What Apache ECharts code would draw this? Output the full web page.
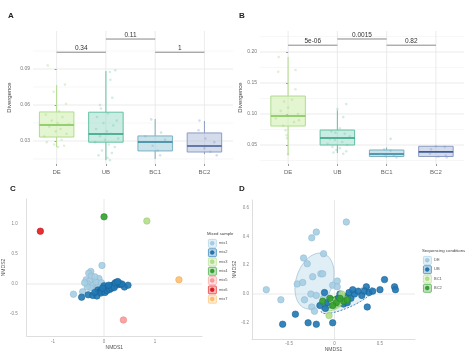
<!DOCTYPE html>
<html><head><meta charset="utf-8">
<script src="https://cdn.jsdelivr.net/npm/echarts@6/dist/echarts.min.js"></script>
<style>html,body{margin:0;padding:0;background:#fff}#main{width:474px;height:354px}</style>
</head><body><div id="main"></div>
<script>
// ---------------- DATA ----------------
const categories = ['DE', 'UB', 'BC1', 'BC2'];
// [min, q1, median, q3, max]
const boxStatsA = [
  [0.025, 0.0333, 0.0433, 0.0542, 0.0767],
  [0.014, 0.029, 0.0358, 0.054, 0.0883],
  [0.015, 0.0217, 0.0292, 0.0342, 0.0483],
  [0.019, 0.0208, 0.0258, 0.0367, 0.0467]
];
const boxStatsB = [
  [0.034, 0.0806, 0.0968, 0.129, 0.192],
  [0.037, 0.050, 0.0613, 0.0742, 0.106],
  [0.030, 0.0315, 0.0355, 0.042, 0.046],
  [0.030, 0.0315, 0.039, 0.048, 0.048]
];
// jittered points: [offset from category, value]
const jitterA_DE = [[-0.18,0.093],[-0.06,0.071],[0.17,0.077],[0.19,0.061],[0.05,0.055],[-0.22,0.052],[0.12,0.050],[-0.10,0.047],[0.02,0.045],[0.25,0.044],[-0.15,0.042],[0.08,0.040],[-0.02,0.038],[0.20,0.036],[-0.25,0.034],[0.10,0.031],[-0.20,0.029],[-0.05,0.027],[0.15,0.026],[0.03,0.025]];
const jitterA_UB = [[0.19,0.089],[0.08,0.0875],[0.09,0.081],[0.13,0.066],[-0.12,0.060],[-0.10,0.057],[0.04,0.053],[-0.18,0.050],[0.22,0.047],[-0.05,0.045],[0.15,0.043],[-0.20,0.040],[0.02,0.038],[0.10,0.036],[-0.12,0.034],[0.25,0.032],[-0.02,0.031],[-0.22,0.029],[0.06,0.027],[0.18,0.025],[-0.08,0.022],[0.12,0.020],[-0.15,0.018],[0.03,0.016],[0.08,0.014]];
const jitterA_BC1 = [[-0.08,0.048],[0.12,0.037],[-0.20,0.034],[0.20,0.031],[-0.05,0.026],[0.05,0.022],[0.10,0.018]];
const jitterA_BC2 = [[-0.10,0.047],[-0.12,0.039],[0.02,0.032],[0.20,0.029],[0.12,0.021],[0.25,0.018],[0.0,0.024]];
const jitterB_DE = [[-0.19,0.192],[-0.20,0.168],[0.15,0.171],[0.15,0.140],[0.08,0.123],[-0.08,0.120],[0.0,0.110],[-0.15,0.105],[0.20,0.100],[-0.25,0.093],[0.22,0.090],[0.12,0.087],[-0.10,0.081],[-0.05,0.074],[-0.03,0.066],[-0.02,0.061],[0.0,0.035]];
const jitterB_UB = [[0.18,0.116],[0.0,0.108],[0.12,0.095],[0.05,0.077],[-0.12,0.072],[-0.04,0.070],[0.15,0.068],[0.25,0.064],[-0.15,0.060],[-0.05,0.058],[0.10,0.055],[-0.20,0.052],[0.20,0.050],[-0.10,0.047],[0.05,0.045],[-0.02,0.042],[0.18,0.040],[-0.08,0.038],[0.12,0.036]];
const jitterB_BC1 = [[0.08,0.060],[-0.05,0.043],[0.08,0.041],[-0.12,0.036],[0.15,0.033],[-0.02,0.032],[0.20,0.030]];
const jitterB_BC2 = [[0.0,0.048],[0.18,0.047],[-0.10,0.043],[-0.12,0.036],[0.20,0.033],[0.05,0.031],[0.22,0.030]];
const bracketPairs = [[0, 1], [1, 2], [2, 3]];
const pValuesA = ['0.34', '0.11', '1'];
const bracketHeightsA = [0.104, 0.115, 0.104];
const pValuesB = ['5e-06', '0.0015', '0.82'];
const bracketHeightsB = [0.211, 0.221, 0.211];
const yTicksA = [0.03, 0.06, 0.09];
const yMinorA = [0.015, 0.045, 0.075, 0.105];
const yTicksB = [0.05, 0.10, 0.15, 0.20];
const yMinorB = [0.025, 0.075, 0.125, 0.175, 0.225];

// Panel C: NMDS by mixed sample
const mixedLabels = ['mix1', 'mix2', 'mix3', 'mix4', 'mix5', 'mix6', 'mix7'];
const nmdsC_1 = [[-0.04,0.31],[-0.26,0.21],[-0.30,0.18],[-0.25,0.13],[-0.35,0.07],[-0.28,0.05],[-0.17,0.06],[-0.10,0.09],[-0.32,0.0],[-0.22,-0.02],[-0.12,0.0],[-0.42,-0.13],[-0.60,-0.17],[-0.20,-0.08],[-0.27,-0.06],[-0.08,-0.04],[-0.15,0.03],[-0.33,-0.05],[-0.05,0.02],[-0.38,0.02],[-0.18,0.12],[-0.12,-0.06],[-0.02,-0.05]];
const nmdsC_2 = [[-0.44,-0.22],[-0.31,-0.18],[-0.22,-0.19],[-0.14,-0.20],[-0.12,-0.10],[-0.08,-0.13],[-0.05,-0.10],[-0.02,-0.12],[0.0,-0.08],[0.03,-0.10],[0.05,-0.06],[0.08,-0.08],[0.10,-0.04],[0.12,-0.06],[0.14,-0.03],[0.17,-0.05],[0.19,-0.01],[0.21,-0.03],[0.24,0.01],[0.25,0.03],[0.28,-0.01],[0.30,0.01],[0.33,-0.01],[0.40,-0.05],[0.47,-0.02],[-0.06,-0.15],[0.02,-0.14],[0.06,-0.11],[0.11,-0.09],[0.15,-0.07],[0.20,-0.06],[0.22,0.02],[0.0,-0.03],[-0.03,-0.07],[0.09,-0.02],[0.35,0.0],[0.27,0.04],[-0.18,-0.14]];
const nmdsC_3 = [[0.84, 1.05]];
const nmdsC_4 = [[0.0, 1.12]];
const nmdsC_5 = [[0.38, -0.60]];
const nmdsC_6 = [[-1.25, 0.88]];
const nmdsC_7 = [[1.47, 0.07]];
const xTicksC = [-1, 0, 1];
const yTicksC = [-0.5, 0.0, 0.5, 1.0];

// Panel D: NMDS by sequencing conditions
const conditionLabels = ['DE', 'UB', 'BC1', 'BC2'];
const nmdsD_DE = [[0.13,0.5],[-0.2,0.43],[-0.25,0.39],[-0.34,0.25],[-0.12,0.28],[-0.3,0.21],[-0.15,0.14],[-0.13,0.14],[-0.24,0.12],[-0.41,0.07],[-0.35,0.08],[-0.75,0.03],[-0.59,-0.04],[-0.26,0.0],[-0.2,-0.01],[-0.02,0.06],[0.03,0.09],[0.03,0.05],[-0.25,-0.09],[-0.22,-0.12],[-0.33,-0.04],[-0.12,-0.03]];
const nmdsD_UB = [[-0.57,-0.21],[-0.43,-0.14],[-0.29,-0.2],[-0.2,-0.21],[-0.02,-0.2],[-0.16,-0.08],[-0.11,0.01],[0.55,0.1],[0.66,0.05],[0.67,0.03],[0.5,0.03],[0.35,0.05],[0.36,-0.09],[-0.08,-0.06],[-0.04,-0.04],[0.0,-0.07],[0.04,-0.03],[0.08,-0.05],[0.12,-0.02],[0.16,0.01],[0.18,-0.03],[0.22,0.0],[0.26,0.02],[0.3,-0.01],[0.33,0.02],[0.38,0.01],[0.42,0.02],[0.2,0.03],[0.1,-0.07],[-0.1,-0.1],[0.06,0.0],[0.14,-0.06]];
const nmdsD_BC1 = [[-0.06,-0.15],[0.08,0.0],[-0.02,-0.05],[0.05,-0.06],[0.12,-0.04],[0.0,-0.08]];
const nmdsD_BC2 = [[-0.13,-0.05],[-0.05,-0.03],[0.02,-0.06],[0.1,-0.05],[0.06,-0.03],[-0.02,-0.08],[0.14,-0.04]];
// ellipse: [centerX, centerY, semi-diameter u (x,y), conjugate semi-diameter v (x,y)]
const ellipsesD = [
  [-0.22, 0.09, 0.10, 0.19, 0.19, -0.04],
  [0.14, -0.045, 0.285, 0.08, 0.031, -0.044],
  [0.02, -0.06, 0.13, 0.04, 0.01, -0.04],
  [0.03, -0.05, 0.15, 0.03, 0.01, -0.035]
];
const xTicksD = [-0.5, 0.0, 0.5];
const yTicksD = [-0.2, 0.0, 0.2, 0.4, 0.6];

// ---------------- STYLE ----------------
const FONT = 'Liberation Sans, Arial, sans-serif';
const boxFill = ['rgba(206,236,172,0.55)', 'rgba(140,212,190,0.45)', 'rgba(150,200,215,0.5)', 'rgba(170,184,215,0.5)'];
const boxStroke = ['#b0dc8c', '#63c2a4', '#7ab1c2', '#8c9cc4'];
const medianColor = ['#7cc24f', '#2b9e80', '#2d7f9b', '#3f5a92'];
const pointColorAB = ['rgba(150,210,120,0.4)', 'rgba(90,190,160,0.35)', 'rgba(110,170,190,0.4)', 'rgba(130,145,195,0.4)'];
const paired = ['#a6cee3', '#1f78b4', '#b2df8a', '#33a02c', '#fb9a99', '#e31a1c', '#fdbf6f'];
const pairedBorder = ['#8fb9d2', '#1a5f92', '#98c874', '#27822a', '#e48483', '#b81517', '#e8a852'];
const ellFill = ['rgba(166,206,227,0.35)', 'rgba(31,120,180,0.12)', 'rgba(178,223,138,0.35)', 'rgba(51,160,44,0.3)'];
const ellStroke = ['#a9c9dc', '#2a78b0', '#9fd277', '#3aa033'];

// ---------------- HELPERS ----------------
function hLines(xi, yi, values, color, w) {
  return { type: 'custom', xAxisIndex: xi, yAxisIndex: yi, silent: true, z: 0,
    data: values.map(v => [v, v]),
    renderItem: (params, api) => {
      const cs = params.coordSys;
      const y = api.coord([0, api.value(0)])[1];
      return { type: 'line', shape: { x1: cs.x, y1: y, x2: cs.x + cs.width, y2: y }, style: { stroke: color, lineWidth: w } };
    } };
}
function vLines(xi, yi, values, color, w) {
  return { type: 'custom', xAxisIndex: xi, yAxisIndex: yi, silent: true, z: 0,
    data: values.map(v => [v, v]),
    renderItem: (params, api) => {
      const cs = params.coordSys;
      const x = api.coord([api.value(0), 0])[0];
      return { type: 'line', shape: { x1: x, y1: cs.y, x2: x, y2: cs.y + cs.height }, style: { stroke: color, lineWidth: w } };
    } };
}
function boxSeries(xi, yi, stats) {
  return { type: 'custom', xAxisIndex: xi, yAxisIndex: yi, silent: true, z: 2,
    data: stats.map((s, i) => [i, s[0], s[1], s[2], s[3], s[4]]),
    renderItem: (params, api) => {
      const i = params.dataIndex;
      const x = api.value(0);
      const half = api.size([0.7, 0])[0] / 2;
      const pMin = api.coord([x, api.value(1)]);
      const pQ1 = api.coord([x, api.value(2)]);
      const pMed = api.coord([x, api.value(3)]);
      const pQ3 = api.coord([x, api.value(4)]);
      const pMax = api.coord([x, api.value(5)]);
      const cx = pMed[0];
      return { type: 'group', children: [
        { type: 'line', shape: { x1: cx, y1: pMax[1], x2: cx, y2: pQ3[1] }, style: { stroke: boxStroke[i], lineWidth: 1 } },
        { type: 'line', shape: { x1: cx, y1: pQ1[1], x2: cx, y2: pMin[1] }, style: { stroke: boxStroke[i], lineWidth: 1 } },
        { type: 'rect', shape: { x: cx - half, y: pQ3[1], width: half * 2, height: pQ1[1] - pQ3[1] }, style: { fill: boxFill[i], stroke: boxStroke[i], lineWidth: 1 } },
        { type: 'line', shape: { x1: cx - half, y1: pMed[1], x2: cx + half, y2: pMed[1] }, style: { stroke: medianColor[i], lineWidth: 1.6 } }
      ] };
    } };
}
function jitterSeries(xi, yi, cat, pts, color) {
  return { type: 'scatter', xAxisIndex: xi, yAxisIndex: yi, silent: true, z: 3,
    symbolSize: 2.6, itemStyle: { color: color },
    data: pts.map(p => [cat + p[0], p[1]]) };
}
function bracketSeries(xi, yi, heights, labels) {
  return { type: 'custom', xAxisIndex: xi, yAxisIndex: yi, silent: true, z: 4,
    data: bracketPairs.map((p, i) => [p[0], p[1], heights[i]]),
    renderItem: (params, api) => {
      const p1 = api.coord([api.value(0), api.value(2)]);
      const p2 = api.coord([api.value(1), api.value(2)]);
      return { type: 'group', children: [
        { type: 'line', shape: { x1: p1[0], y1: p1[1], x2: p2[0], y2: p2[1] }, style: { stroke: '#7a7a7a', lineWidth: 0.9 } },
        { type: 'text', style: { text: labels[params.dataIndex], x: (p1[0] + p2[0]) / 2, y: p1[1] - 0.5, align: 'center', verticalAlign: 'bottom', fontSize: 6.5, fill: '#333', fontFamily: FONT } }
      ] };
    } };
}
function nmdsSeries(xi, yi, pts, idx, colors, borders) {
  return { type: 'scatter', xAxisIndex: xi, yAxisIndex: yi, silent: true, z: 3,
    symbolSize: 6.5, itemStyle: { color: colors[idx], borderColor: borders[idx], borderWidth: 0.6, opacity: 0.9 },
    data: pts };
}
function ellipseSeries(xi, yi, ells) {
  return { type: 'custom', xAxisIndex: xi, yAxisIndex: yi, silent: true, z: 2,
    data: ells,
    renderItem: (params, api) => {
      const i = params.dataIndex;
      const c = [api.value(0), api.value(1)], u = [api.value(2), api.value(3)], v = [api.value(4), api.value(5)];
      const pts = [];
      for (let k = 0; k < 72; k++) {
        const t = k / 72 * Math.PI * 2;
        pts.push(api.coord([c[0] + u[0] * Math.cos(t) + v[0] * Math.sin(t), c[1] + u[1] * Math.cos(t) + v[1] * Math.sin(t)]));
      }
      return { type: 'polygon', shape: { points: pts }, style: { fill: ellFill[i], stroke: ellStroke[i], lineWidth: 0.9, lineDash: i === 1 ? [2, 1.5] : null } };
    } };
}
function catXAxis(gi, min, max) {
  return { gridIndex: gi, type: 'value', min: min, max: max,
    axisLine: { show: false }, splitLine: { show: false },
    axisTick: { show: true, customValues: [0, 1, 2, 3], length: 2, lineStyle: { color: '#999' } },
    axisLabel: { customValues: [0, 1, 2, 3], formatter: v => categories[Math.round(v)], fontSize: 6, color: '#666', margin: 5, fontFamily: FONT } };
}
function divYAxis(gi, min, max, ticks, gap) {
  return { gridIndex: gi, type: 'value', min: min, max: max,
    axisLine: { show: false }, splitLine: { show: false },
    axisTick: { show: true, customValues: ticks, length: 2, lineStyle: { color: '#999' } },
    axisLabel: { customValues: ticks, formatter: v => v.toFixed(2), fontSize: 5, color: '#777', margin: 3, fontFamily: FONT },
    name: 'Divergence', nameLocation: 'middle', nameRotate: 90, nameGap: gap,
    nameTextStyle: { fontSize: 6, color: '#444', fontFamily: FONT } };
}
function nmdsAxis(gi, min, max, ticks, name, isY, margin, gap) {
  return { gridIndex: gi, type: 'value', min: min, max: max,
    axisLine: { show: true, onZero: false, lineStyle: { color: '#dedede', width: 1 } },
    axisTick: { show: false }, splitLine: { show: false },
    axisLabel: { customValues: ticks, formatter: v => (isY ? v.toFixed(1) : String(v)), fontSize: 4.5, color: '#888', margin: margin, fontFamily: FONT },
    name: name, nameLocation: 'middle', nameRotate: isY ? 90 : 0, nameGap: gap,
    nameTextStyle: { fontSize: 5, color: '#555', fontFamily: FONT } };
}
function legendGraphic(left, top, title, labels, colors, borders, step) {
  const els = [{ type: 'text', left: left, top: top, style: { text: title, fontSize: 4.3, fill: '#444', fontFamily: FONT } }];
  labels.forEach((lab, i) => {
    const y = top + 7 + i * step;
    els.push({ type: 'rect', left: left + 1, top: y, shape: { width: 8, height: 8, r: 1 },
      style: { fill: echarts.color.modifyAlpha(colors[i], 0.3), stroke: echarts.color.modifyAlpha(colors[i], 0.8), lineWidth: 0.8 } });
    els.push({ type: 'circle', left: left + 3, top: y + 2, shape: { r: 2 }, style: { fill: colors[i], stroke: borders[i], lineWidth: 0.4 } });
    els.push({ type: 'text', left: left + 12, top: y + 2, style: { text: lab, fontSize: 4, fill: '#555', fontFamily: FONT } });
  });
  return els;
}

// ---------------- OPTION ----------------
const option = {
  animation: false,
  grid: [
    { left: 33, top: 31, width: 200, height: 133 },
    { left: 260, top: 31, width: 204, height: 133 },
    { left: 23, top: 199, width: 179, height: 137 },
    { left: 252, top: 200, width: 163, height: 139 }
  ],
  xAxis: [
    catXAxis(0, -0.48, 3.58),
    catXAxis(1, -0.57, 3.57),
    nmdsAxis(2, -1.519, 1.923, xTicksC, 'NMDS1', false, 3, 8),
    nmdsAxis(3, -0.907, 0.885, xTicksD, 'NMDS1', false, 2, 7)
  ],
  yAxis: [
    divYAxis(0, 0.0108, 0.1217, yTicksA, 21),
    divYAxis(1, 0.0194, 0.2339, yTicksB, 16),
    nmdsAxis(2, -0.867, 1.417, yTicksC, 'NMDS2', true, 9, 10),
    nmdsAxis(3, -0.3125, 0.653, yTicksD, 'NMDS2', true, 3, 10)
  ],
  graphic: [
    { type: 'text', left: 8, top: 12, style: { text: 'A', fontSize: 8, fontWeight: 'bold', fill: '#222', fontFamily: FONT } },
    { type: 'text', left: 239, top: 12, style: { text: 'B', fontSize: 8, fontWeight: 'bold', fill: '#222', fontFamily: FONT } },
    { type: 'text', left: 10, top: 185, style: { text: 'C', fontSize: 8, fontWeight: 'bold', fill: '#222', fontFamily: FONT } },
    { type: 'text', left: 239, top: 185, style: { text: 'D', fontSize: 8, fontWeight: 'bold', fill: '#222', fontFamily: FONT } }
  ].concat(
    legendGraphic(207, 232, 'Mixed sample', mixedLabels, paired, pairedBorder, 9.3),
    legendGraphic(422, 249, 'Sequencing conditions', conditionLabels, paired.slice(0, 4), pairedBorder.slice(0, 4), 9.3)
  ),
  series: [
    hLines(0, 0, yMinorA, '#f2f2f2', 0.6), hLines(0, 0, yTicksA, '#e6e6e6', 0.8), vLines(0, 0, [0, 1, 2, 3], '#e6e6e6', 0.8),
    hLines(1, 1, yMinorB, '#f2f2f2', 0.6), hLines(1, 1, yTicksB, '#e6e6e6', 0.8), vLines(1, 1, [0, 1, 2, 3], '#e6e6e6', 0.8),
    boxSeries(0, 0, boxStatsA), boxSeries(1, 1, boxStatsB),
    jitterSeries(0, 0, 0, jitterA_DE, pointColorAB[0]), jitterSeries(0, 0, 1, jitterA_UB, pointColorAB[1]),
    jitterSeries(0, 0, 2, jitterA_BC1, pointColorAB[2]), jitterSeries(0, 0, 3, jitterA_BC2, pointColorAB[3]),
    jitterSeries(1, 1, 0, jitterB_DE, pointColorAB[0]), jitterSeries(1, 1, 1, jitterB_UB, pointColorAB[1]),
    jitterSeries(1, 1, 2, jitterB_BC1, pointColorAB[2]), jitterSeries(1, 1, 3, jitterB_BC2, pointColorAB[3]),
    bracketSeries(0, 0, bracketHeightsA, pValuesA), bracketSeries(1, 1, bracketHeightsB, pValuesB),
    hLines(2, 2, [0], '#e3e3e3', 0.8), vLines(2, 2, [0], '#e3e3e3', 0.8),
    hLines(3, 3, [0], '#e3e3e3', 0.8), vLines(3, 3, [0], '#e3e3e3', 0.8),
    nmdsSeries(2, 2, nmdsC_1, 0, paired, pairedBorder), nmdsSeries(2, 2, nmdsC_2, 1, paired, pairedBorder),
    nmdsSeries(2, 2, nmdsC_3, 2, paired, pairedBorder), nmdsSeries(2, 2, nmdsC_4, 3, paired, pairedBorder),
    nmdsSeries(2, 2, nmdsC_5, 4, paired, pairedBorder), nmdsSeries(2, 2, nmdsC_6, 5, paired, pairedBorder),
    nmdsSeries(2, 2, nmdsC_7, 6, paired, pairedBorder),
    ellipseSeries(3, 3, ellipsesD),
    nmdsSeries(3, 3, nmdsD_DE, 0, paired, pairedBorder), nmdsSeries(3, 3, nmdsD_UB, 1, paired, pairedBorder),
    nmdsSeries(3, 3, nmdsD_BC1, 2, paired, pairedBorder), nmdsSeries(3, 3, nmdsD_BC2, 3, paired, pairedBorder)
  ]
};
const chart = echarts.init(document.getElementById('main'), null, { renderer: 'canvas' });
chart.setOption(option);
</script>
</body></html>
